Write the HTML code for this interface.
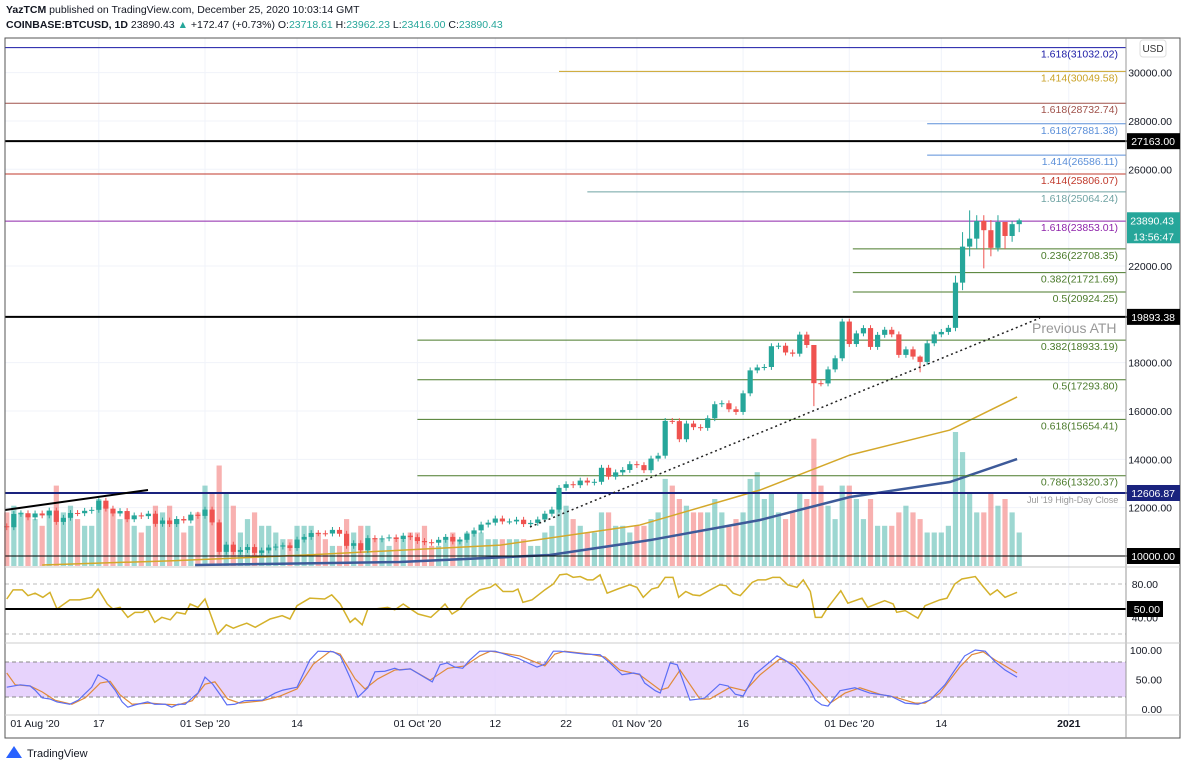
<!DOCTYPE html>
<html><head><meta charset="utf-8"><style>
body{margin:0;background:#fff;width:1185px;height:768px;overflow:hidden;font-family:"Liberation Sans",sans-serif}
svg text{font-family:"Liberation Sans",sans-serif}
</style></head><body>
<svg id="c" width="1185" height="768">
<text x="6" y="13" font-size="10.5" fill="#131722"><tspan font-weight="bold">YazTCM</tspan> published on TradingView.com, December 25, 2020 10:03:14 GMT</text>
<text x="6" y="28" font-size="10.5" fill="#131722"><tspan font-weight="bold">COINBASE:BTCUSD, 1D</tspan> 23890.43 <tspan fill="#26a69a">▲</tspan> +172.47 (+0.73%) O:<tspan fill="#26a69a">23718.61</tspan> H:<tspan fill="#26a69a">23962.23</tspan> L:<tspan fill="#26a69a">23416.00</tspan> C:<tspan fill="#26a69a">23890.43</tspan></text>
<g id="grid"></g>
<rect x="5" y="662" width="1121" height="35" fill="#e1c8fb" opacity="0.8"/>
<line x1="5" y1="662" x2="1126" y2="662" stroke="#888" stroke-dasharray="4,3" />
<line x1="5" y1="697" x2="1126" y2="697" stroke="#888" stroke-dasharray="4,3" />
<line x1="5" y1="584" x2="1126" y2="584" stroke="#bbb" stroke-dasharray="4,3" />
<line x1="5" y1="634" x2="1126" y2="634" stroke="#bbb" stroke-dasharray="4,3" />
<g id="vol"></g><g id="ma"></g><g id="levels"></g><g id="candles"></g><g id="ind"></g>
<line x1="5" y1="510" x2="148" y2="490" stroke="#000" stroke-width="2"/>
<line x1="530" y1="527" x2="1040" y2="318" stroke="#222" stroke-width="1.5" stroke-dasharray="2,3"/>
<text x="1032" y="333" font-size="14" fill="#999">Previous ATH</text>
<text x="1027" y="503" font-size="9" fill="#999">Jul '19 High-Day Close</text>
<line x1="5" y1="609" x2="1126" y2="609" stroke="#000" stroke-width="2"/>
<rect x="5" y="38" width="1175" height="700" fill="none" stroke="#555"/>
<line x1="1126" y1="38" x2="1126" y2="738" stroke="#999"/>
<line x1="5" y1="567" x2="1180" y2="567" stroke="#ccc"/>
<line x1="5" y1="643" x2="1180" y2="643" stroke="#ccc"/>
<line x1="5" y1="715" x2="1180" y2="715" stroke="#ccc"/>
<g id="axis"></g>
<rect x="1140" y="40" width="26" height="17" rx="3" fill="#fff" stroke="#ddd"/>
<text x="1153" y="52" font-size="10" text-anchor="middle" fill="#333">USD</text>
<g><path d="M6 758 L14 746 L22 758Z" fill="#2962ff"/><text x="27" y="757" font-size="11" fill="#131722">TradingView</text></g>
</svg>
<script>
const NS='http://www.w3.org/2000/svg';
function el(p,t,a){const e=document.createElementNS(NS,t);for(const k in a)e.setAttribute(k,a[k]);document.getElementById(p).appendChild(e);return e;}
const startDay=-31;
const closes=[11800,11070,11230,11190,11740,11770,11600,11760,11680,11880,11410,11580,11780,11770,11870,11910,12290,11960,11760,11860,11520,11680,11650,11750,11330,11470,11320,11530,11470,11710,11660,
11920,11390,10170,10470,10170,10250,10370,10130,10230,10350,10390,10440,10330,10680,10790,10950,10940,10930,11080,10920,10420,10530,10240,10740,10690,10730,10770,10700,10840,10780,
10620,10570,10550,10670,10790,10600,10670,10920,11060,11300,11380,11550,11430,11430,11500,11320,11370,11510,11750,11920,12820,12970,12930,13120,13040,13070,13650,13280,13460,13560,13800,
13760,13550,14030,14150,15590,15580,14830,15480,15330,15300,15700,16280,16320,16070,15960,16730,17680,17800,17820,18680,18700,18420,18370,19160,18730,17150,17140,17720,18180,19700,
18770,19210,19430,18650,19150,19360,19170,18320,18550,18250,18030,18800,19170,19270,19440,21310,22800,23130,23860,23480,22750,23820,23240,23730,23890];
const volumes=[50,45,55,40,45,40,38,35,30,40,60,40,45,35,30,30,50,45,40,35,40,30,25,30,45,40,45,35,25,30,40,
60,55,75,55,45,25,35,40,30,30,25,20,20,30,30,30,25,20,15,15,35,25,30,30,20,20,15,20,20,25,
25,30,15,15,20,25,20,25,25,25,20,20,20,20,20,20,15,15,25,30,55,45,35,30,25,25,40,40,30,30,25,
30,30,35,40,65,60,50,45,40,40,40,50,40,30,35,40,65,70,50,55,40,35,40,55,50,95,60,45,35,60,
60,50,35,50,30,30,30,40,45,40,35,25,25,25,30,100,85,55,40,40,55,45,50,40,25];
const wickDays=[86,101,106,107,108,109,110,111,112,113,114,115];
const wickLows=[16200,17600,19300,21000,22400,22700,21900,22400,22600,22700,23000,23400];
const wickHighs=[17900,18300,21600,23400,24300,24100,24100,23900,24100,23800,23850,23960];
const maYDays=[-23,-5,15,41.7,61.4,78.4,91.1,105.2,114.7];
const maYVals=[9630,9800,10050,10450,11280,12730,14180,15210,16580];
const maBDays=[-1.4,27.5,48.7,62.9,78.4,91.1,105.2,114.7];
const maBVals=[9630,9750,10040,10660,11490,12440,13060,14010];
const rsiDays=[-28.0,-27.1,-25.8,-25.0,-24.0,-22.9,-21.9,-20.9,-19.1,-17.7,-16.0,-15.1,-13.8,-13.0,-12.0,-10.9,-9.9,-8.8,-8.1,-7.1,-6.1,-4.9,-4.0,-2.8,-2.1,-1.0,0,1.8,3.0,4.0,4.9,5.9,7.1,9.2,10.9,12.0,13.0,14.8,16.9,17.9,19.1,20.5,21.2,22.2,23.0,24.0,25.8,26.8,28.0,28.7,30.1,31.9,33.2,33.9,34.9,36.0,37.0,38.8,40.3,41.0,42.1,43.5,44.2,44.9,46.2,48.0,49.2,50.1,51.1,52.0,53.0,54.0,54.8,55.8,56.8,58.3,60.0,61.0,61.9,63.1,64.0,65.0,66.1,66.9,67.9,68.9,69.9,71.6,72.7,73.6,74.6,75.6,77.3,78.1,79.2,80.2,81.2,82.3,83.6,84.5,85.5,86.2,87.1,87.9,89.8,90.8,92.8,93.6,96.0,97.2,97.7,98.9,100.7,101.7,103.8,104.8,105.9,106.9,108.8,109.9,110.9,111.9,113.0,114.7];
const rsiVals=[62,73,73,66,69,64,70,50,61,61,64,74,56,50,52,40,46,46,50,34,40,37,46,44,56,52,62,20,31,27,30,33,28,38,42,38,54,63,62,67,56,34,39,31,50,50,52,49,56,52,44,40,50,56,44,50,62,73,76,80,71,71,74,58,61,73,80,91,92,88,89,85,85,91,69,74,79,76,64,74,76,88,88,64,71,67,66,74,79,78,69,66,82,85,85,88,88,79,76,85,71,40,40,51,72,57,63,52,60,56,46,48,39,54,61,63,80,86,89,77,67,73,64,70];
const stKDays=[-28.0,-26.1,-24.7,-24.0,-23.0,-21.9,-20.9,-19.1,-17.9,-16.0,-15.1,-13.8,-12.7,-11.7,-10.9,-9.9,-8.1,-7.1,-5.6,-4.7,-3.8,-2.8,-1.7,-1.0,0,1.1,2.1,3.1,4.2,5.6,8.1,9.9,11.0,13.0,14.8,15.96,18.1,19.1,20.5,21.6,23.0,24.0,25.4,26.8,27.5,29.0,31.1,32.1,33.2,34.2,35.3,36.4,37.4,38.8,41.0,43.1,44.2,46.9,48.0,49.2,50.1,53.7,55.8,57.2,58.9,60.5,61.4,62.1,63.6,64.3,65.7,66.7,68.5,69.9,70.6,72.7,73.9,74.9,76.0,77.7,79.8,80.8,81.9,83.3,85.2,86.2,87.1,88.0,89.7,91.8,93.9,96.8,98.9,100.7,102.4,104.5,105.9,107.3,108.8,110.2,111.6,113.0,114.7];
const stK=[37,41,39,32,19,17,12,8,15,37,58,49,32,12,3,7,12,8,8,3,8,8,20,27,54,42,25,7,8,14,15,27,32,37,83,98,97,90,53,20,36,63,64,69,66,68,53,46,75,78,71,69,83,98,98,90,86,71,76,98,98,93,92,78,58,61,59,44,31,27,78,75,15,17,19,42,39,25,22,59,80,90,83,71,39,15,7,5,31,36,27,22,10,8,15,41,66,90,100,98,80,66,54];
const stDDays=[-28.0,-26.8,-24.7,-23.0,-21.2,-18.8,-16.9,-14.8,-13.4,-12.0,-10.3,-7.8,-5.6,-3.8,-1.8,0,1.4,3.2,4.9,8.1,10.6,13.0,15.3,17.7,19.1,21.2,22.6,24.4,26.8,29.0,31.8,34.3,36.7,38.8,40.3,44.5,48.0,49.4,50.8,54.4,56.5,58.6,61.4,64.3,65.4,67.1,69.9,71.3,74.2,76.3,78.4,81.2,83.3,85.7,88.3,90.4,92.5,95.3,97.5,100.3,101.7,103.8,106.6,108.3,109.9,111.6,114.7];
const stD=[61,41,39,29,15,8,19,44,47,24,8,10,8,7,14,42,46,17,10,14,22,34,76,98,93,51,34,51,66,68,49,69,73,90,98,90,73,93,98,93,88,66,58,32,36,66,17,17,37,31,58,85,76,44,10,27,36,25,20,10,10,27,71,92,97,83,61];
const tickLabels=["01 Aug '20","17","01 Sep '20","14","01 Oct '20","12","22","01 Nov '20","16","01 Dec '20","14","2021"];
const tickDays=[-31,-15,0,13,30,41,51,61,76,91,104,122];
const priceTicks=[30000,28000,26000,22000,18000,16000,14000,12000];
const fibLabels=["1.618(31032.02)","1.414(30049.58)","1.618(28732.74)","1.618(27881.38)","1.414(26586.11)","1.414(25806.07)","1.618(25064.24)","1.618(23853.01)","0.236(22708.35)","0.382(21721.69)","0.5(20924.25)","0.382(18933.19)","0.5(17293.80)","0.618(15654.41)","0.786(13320.37)"];
const fibPrices=[31032.02,30049.58,28732.74,27881.38,26586.11,25806.07,25064.24,23853.01,22708.35,21721.69,20924.25,18933.19,17293.80,15654.41,13320.37];
const fibStartDays=[-40,50,-40,102,102,-40,54,-40,91.5,91.5,91.5,30,30,30,30];
const fibColors=["#1a1aa6","#c9a227","#a0524b","#5b8fd9","#5b8fd9","#c0392b","#6fa3a3","#8e24aa","#4a7a2a","#4a7a2a","#4a7a2a","#4a7a2a","#4a7a2a","#4a7a2a","#4a7a2a"];
const keyLevels=[27163,19893.38,12606.87,10000];
const keyColors=["#000","#000","#1a237e","#000"];
const X=d=>205+d*7.08;
const Y=p=>556-(p-10000)*0.02417;
const RY=v=>609-(v-50)*0.833;
const SY=v=>709-v*0.59;
const VY=v=>566-v*1.34;
const L=5,R=1126;
tickDays.forEach(d=>{const g=el('grid','line',{x1:X(d),y1:38,x2:X(d),y2:715,stroke:'#f0f3fa'});});
priceTicks.forEach(p=>{const g=el('grid','line',{x1:L,y1:Y(p),x2:R,y2:Y(p),stroke:'#f0f3fa'});});
closes.forEach((c,i)=>{const d=startDay+i,x=X(d);if(x<L)return;const o=i?closes[i-1]:c;const up=c>=o;
 const v=el('vol','rect',{x:x-2.6,y:VY(volumes[i]),width:5.2,height:566-VY(volumes[i]),fill:up?'rgba(38,166,154,0.45)':'rgba(239,83,80,0.45)'});
 
 let hi=Math.max(o,c)+120,lo=Math.min(o,c)-120;const k=wickDays.indexOf(d);if(k>=0){hi=wickHighs[k];lo=wickLows[k];}
 const col=up?'#26a69a':'#ef5350';
 const w=el('candles','line',{x1:x,x2:x,y1:Y(hi),y2:Y(lo),stroke:col});
 const b=el('candles','rect',{x:x-2.6,y:Y(Math.max(o,c)),width:5.2,height:Math.max(1,Y(Math.min(o,c))-Y(Math.max(o,c))),fill:col});
 });
function poly(g,days,vals,f,col,w,name){const p=el(g,'polyline',{points:days.map((d,i)=>Math.max(L,X(d))+','+f(vals[i])).join(' '),fill:'none',stroke:col,'stroke-width':w});}
poly('ma',maYDays,maYVals,Y,'#d4a82a',1.5,'ma-yellow');
poly('ma',maBDays,maBVals,Y,'#3d5a99',2.5,'ma-blue');
fibPrices.forEach((p,i)=>{const y=Y(p);const l=el('levels','line',{x1:Math.max(L,X(fibStartDays[i])),y1:y,x2:R,y2:y,stroke:fibColors[i]});
 const t=el('levels','text',{x:1118,y:y+10,'font-size':10.5,'text-anchor':'end',fill:fibColors[i]});t.textContent=fibLabels[i];});
keyLevels.forEach((p,i)=>{const y=Y(p);const l=el('levels','line',{x1:L,y1:y,x2:1180,y2:y,stroke:keyColors[i],'stroke-width':i==3?1:2});
 const r=el('axis','rect',{x:1127,y:y-8,width:53,height:16,fill:keyColors[i]});
 const t=el('axis','text',{x:1175,y:y+4,'font-size':10.5,'text-anchor':'end',fill:'#fff'});t.textContent=p.toFixed(2);});
poly('ind',rsiDays,rsiVals,RY,'#d4b12a',1.5,'rsi-line');
poly('ind',stDDays,stD,SY,'#e08a3a',1.2,'stoch-d-line');
poly('ind',stKDays,stK,SY,'#5b6ef5',1.2,'stoch-k-line');
priceTicks.forEach(p=>{const t=el('axis','text',{x:1172,y:Y(p)+4,'font-size':10.5,'text-anchor':'end',fill:'#131722'});t.textContent=p.toFixed(2);});
const cur=23890.43,cy=Y(cur);
let r=el('axis','rect',{x:1127,y:cy-8,width:53,height:31,fill:'#26a69a'});
let t=el('axis','text',{x:1174,y:cy+4,'font-size':10.5,'text-anchor':'end',fill:'#fff'});t.textContent='23890.43';
t=el('axis','text',{x:1174,y:cy+20,'font-size':10.5,'text-anchor':'end',fill:'#fff'});t.textContent='13:56:47';
[[80,RY(80)],[40,RY(40)]].forEach(a=>{const q=el('axis','text',{x:1158,y:a[1]+4,'font-size':10.5,'text-anchor':'end',fill:'#131722'});q.textContent=a[0].toFixed(2);});
r=el('axis','rect',{x:1127,y:601,width:36,height:16,fill:'#000'});
t=el('axis','text',{x:1160,y:613,'font-size':10.5,'text-anchor':'end',fill:'#fff'});t.textContent='50.00';
[100,50,0].forEach(v=>{const q=el('axis','text',{x:1162,y:SY(v)+4,'font-size':10.5,'text-anchor':'end',fill:'#131722'});q.textContent=v.toFixed(2);});
tickDays.forEach((d,i)=>{const x=Math.max(35,X(d));const q=el('axis','text',{x:x,y:727,'font-size':10.5,'text-anchor':'middle',fill:'#131722','font-weight':i==11?'bold':'normal'});q.textContent=tickLabels[i];});
</script>
</body></html>
